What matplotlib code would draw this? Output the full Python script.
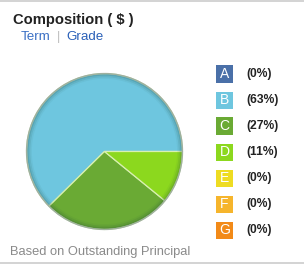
import matplotlib
matplotlib.use("Agg")
import matplotlib.pyplot as plt
from matplotlib.patches import Rectangle, Circle
from matplotlib.lines import Line2D

plt.rcParams['font.family'] = ['Liberation Sans', 'DejaVu Sans']

grades = ['A', 'B', 'C', 'D', 'E', 'F', 'G']
shares = [0, 63, 27, 11, 0, 0, 0]
labels = ['(0%)', '(63%)', '(27%)', '(11%)', '(0%)', '(0%)', '(0%)']
colors = ['#4A70A8', '#6EC6DF', '#6AAA34', '#8CD81E', '#EEDC22', '#F6B52C', '#F28A18']

W, H = 304, 264
fig = plt.figure(figsize=(W / 100, H / 100), dpi=100)
fig.patch.set_facecolor('white')

def fx(x):
    return x / W

def fy(y):
    return 1 - y / H

# border lines top and bottom
fig.add_artist(Line2D([0, 1], [fy(0.5), fy(0.5)], color='#cccccc', lw=1.2))
fig.add_artist(Line2D([0, 1], [fy(262.5), fy(262.5)], color='#cccccc', lw=1.2))

# title
fig.text(fx(13), fy(20), 'Composition ( $ )', fontsize=10.6, fontweight='bold',
         color='#222222', va='center', ha='left')
fig.text(fx(21), fy(37), 'Term', fontsize=9.6, color='#3a6fc4', va='center', ha='left')
fig.text(fx(57), fy(37), '|', fontsize=9, color='#bbbbbb', va='center', ha='left')
fig.text(fx(66), fy(37), 'Grade', fontsize=9.6, color='#2a60b8', va='center', ha='left')

# pie
cx, cy, r = 104.5, 151.5, 79.5
ax = fig.add_axes([fx(cx - r), fy(cy + r), 2 * r / W, 2 * r / H])
vals = [v for v in shares if v > 0]
cols = [c for v, c in zip(shares, colors) if v > 0]
ax.pie(vals, colors=cols, startangle=0, counterclock=True,
       wedgeprops=dict(edgecolor='#d8f0b0', linewidth=0.9))
# soft darker rim
for k, (rad, a) in enumerate([(0.99, 0.18), (0.97, 0.10), (0.95, 0.05)]):
    ax.add_patch(Circle((0, 0), rad, fill=False, edgecolor='#1f4a3a', lw=2.0, alpha=a))
ax.add_patch(Circle((0, 0), 1.0, fill=False, edgecolor='#9aa8a0', lw=1.0, alpha=0.8))
ax.set_xlim(-1.02, 1.02)
ax.set_ylim(-1.02, 1.02)
ax.set_aspect('equal')
ax.axis('off')

# legend
y0, dy = 74, 26
for i, (g, lab, c) in enumerate(zip(grades, labels, colors)):
    yc = y0 + i * dy
    fig.add_artist(Rectangle((fx(216), fy(yc + 8.5)), 17 / W, 17 / H,
                             facecolor=c, edgecolor='none', transform=fig.transFigure))
    fig.text(fx(224.5), fy(yc), g, fontsize=10, color='white', ha='center', va='center')
    fig.text(fx(246), fy(yc), lab, fontsize=8.7, fontweight='bold', color='#222222',
             ha='left', va='center')

fig.text(fx(10), fy(252), 'Based on Outstanding Principal', fontsize=9.3,
         color='#8a8a8a', ha='left', va='center')

fig.savefig('out.png', dpi=100, facecolor='white')
